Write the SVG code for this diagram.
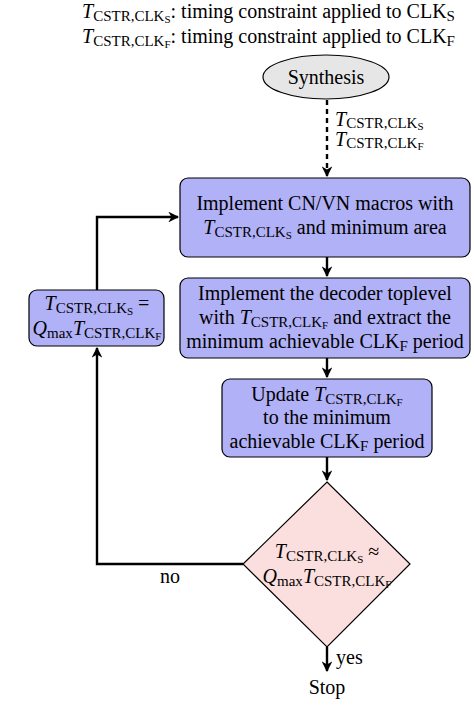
<svg xmlns="http://www.w3.org/2000/svg" width="474" height="726" viewBox="0 0 474 726">
<defs>
<style>
text{font-family:"Liberation Serif","Times New Roman",serif;font-size:20px;fill:#000}
.c{text-anchor:middle}
.i{font-style:italic}
.s{font-size:15px}
.ss{font-size:11px}
.box{fill:#b1b1f7;stroke:#000;stroke-width:1.2}
.ln{fill:none;stroke:#000;stroke-width:2.4}
</style>
<marker id="ah" viewBox="0 0 10 10" refX="9" refY="5" markerWidth="4.5" markerHeight="4.5" orient="auto" markerUnits="strokeWidth">
<path d="M0,0 L10,5 L0,10 L3,5 Z" fill="#000"/>
</marker>
</defs>
<g id="legend">
<text x="82" y="18" font-size="20.5"><tspan class="i">T</tspan><tspan class="s" dy="3">CSTR,CLK</tspan><tspan class="ss" dy="2">S</tspan><tspan dy="-5">: timing constraint applied to CLK</tspan><tspan class="s" dy="3">S</tspan></text>
<text x="82" y="43" font-size="20.5"><tspan class="i">T</tspan><tspan class="s" dy="3">CSTR,CLK</tspan><tspan class="ss" dy="2">F</tspan><tspan dy="-5">: timing constraint applied to CLK</tspan><tspan class="s" dy="3">F</tspan></text>
</g>
<g id="connectors">
<line class="ln" x1="327" y1="100" x2="327" y2="176" stroke-dasharray="5,4" marker-end="url(#ah)"/>
<text x="335" y="126" font-size="19"><tspan class="i">T</tspan><tspan class="s" dy="2">CSTR,CLK</tspan><tspan class="ss" dy="2">S</tspan></text>
<text x="335" y="146" font-size="19"><tspan class="i">T</tspan><tspan class="s" dy="2">CSTR,CLK</tspan><tspan class="ss" dy="2">F</tspan></text>
<line class="ln" x1="327" y1="257" x2="327" y2="276" marker-end="url(#ah)"/>
<line class="ln" x1="327" y1="358" x2="327" y2="377" marker-end="url(#ah)"/>
<line class="ln" x1="327" y1="457" x2="327" y2="480" marker-end="url(#ah)"/>
<line class="ln" x1="327" y1="647" x2="327" y2="671" marker-end="url(#ah)"/>
<polyline class="ln" points="243,564 97,564 97,348" marker-end="url(#ah)"/>
<polyline class="ln" points="97,290 97,217 178,217" marker-end="url(#ah)"/>
<text class="c" x="170" y="583">no</text>
<text x="336" y="664">yes</text>
</g>
<g id="synthesis">
<ellipse cx="326" cy="77" rx="63" ry="22" fill="#e6e6e6" stroke="#000" stroke-width="1.2"/>
<text class="c" x="326" y="84">Synthesis</text>
</g>
<g id="impl-macros">
<rect class="box" x="180" y="178" width="290" height="79" rx="8"/>
<text class="c" x="325" y="210">Implement CN/VN macros with</text>
<text class="c" x="325" y="234"><tspan class="i">T</tspan><tspan class="s" dy="3">CSTR,CLK</tspan><tspan class="ss" dy="2">S</tspan><tspan dy="-5"> and minimum area</tspan></text>
</g>
<g id="impl-toplevel">
<rect class="box" x="180" y="278" width="290" height="80" rx="8"/>
<text class="c" x="325" y="300">Implement the decoder toplevel</text>
<text class="c" x="325" y="324">with <tspan class="i">T</tspan><tspan class="s" dy="3">CSTR,CLK</tspan><tspan class="ss" dy="2">F</tspan><tspan dy="-5"> and extract the</tspan></text>
<text class="c" x="325" y="348">minimum achievable CLK<tspan class="s" dy="3">F</tspan><tspan dy="-3"> period</tspan></text>
</g>
<g id="update">
<rect class="box" x="222" y="379" width="210" height="78" rx="8"/>
<text class="c" x="327" y="401">Update <tspan class="i">T</tspan><tspan class="s" dy="3">CSTR,CLK</tspan><tspan class="ss" dy="2">F</tspan></text>
<text class="c" x="327" y="424">to the minimum</text>
<text class="c" x="327" y="448">achievable CLK<tspan class="s" dy="3">F</tspan><tspan dy="-3"> period</tspan></text>
</g>
<g id="qbox">
<rect class="box" x="29" y="290" width="135" height="56" rx="8"/>
<text class="c" x="97" y="310"><tspan class="i">T</tspan><tspan class="s" dy="3">CSTR,CLK</tspan><tspan class="ss" dy="2">S</tspan><tspan dy="-5"> =</tspan></text>
<text class="c" x="97" y="335"><tspan class="i">Q</tspan><tspan class="s" dy="3">max</tspan><tspan class="i" dy="-3">T</tspan><tspan class="s" dy="3">CSTR,CLK</tspan><tspan class="ss" dy="2">F</tspan></text>
</g>
<g id="decision">
<polygon points="327,482 410,564 327,647 243,564" fill="#fbdede" stroke="#000" stroke-width="1.2"/>
<text class="c" x="327" y="558"><tspan class="i">T</tspan><tspan class="s" dy="3">CSTR,CLK</tspan><tspan class="ss" dy="2">S</tspan><tspan dy="-5"> ≈</tspan></text>
<text class="c" x="327" y="583"><tspan class="i">Q</tspan><tspan class="s" dy="3">max</tspan><tspan class="i" dy="-3">T</tspan><tspan class="s" dy="3">CSTR,CLK</tspan><tspan class="ss" dy="2">F</tspan></text>
</g>
<g id="stop">
<text class="c" x="327" y="694">Stop</text>
</g>
</svg>
